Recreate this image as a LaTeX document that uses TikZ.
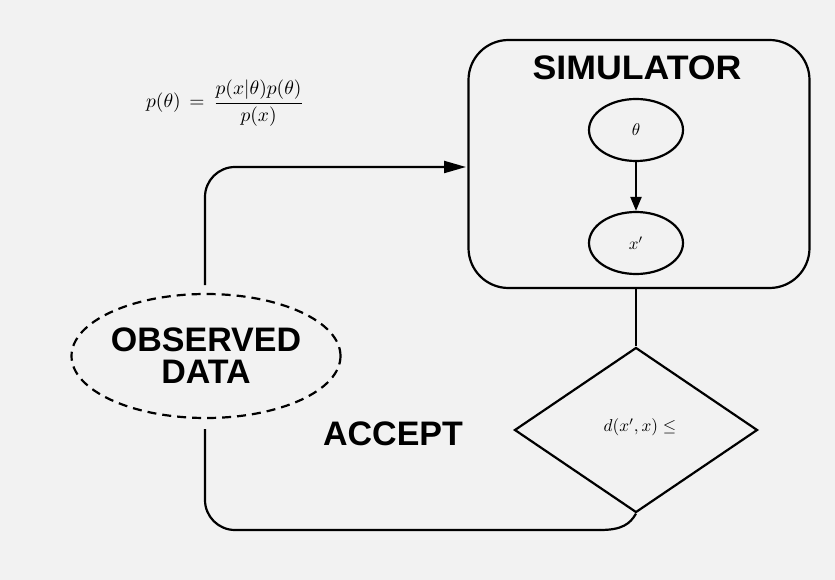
\documentclass[tikz,border=0pt]{standalone}
\usepackage{fontspec}
\usepackage{amsmath}
\usepackage{graphicx}
\setmainfont{Liberation Sans}
\usetikzlibrary{shapes.geometric,arrows.meta}
\begin{document}
\begin{tikzpicture}[x=1pt,y=-1pt,
  line/.style={line width=2.2pt},
  lab/.style={font=\fontsize{34}{36}\selectfont\bfseries, align=center},
  var/.style={ellipse, draw, line width=2.2pt, minimum width=94pt, minimum height=62pt, inner sep=0pt}]
\fill[gray!10] (0,0) rectangle (835,580);
\useasboundingbox (0,0) rectangle (835,580);
\node[draw, line width=2.2pt, rounded corners=40pt, minimum width=341pt, minimum height=248pt] (sim) at (639,164) {};
\node[lab] (simt) at (637,68) {\scalebox{1.05}[1]{SIMULATOR}};
\node[var] (th) at (636,130) {\scalebox{1.7}{$\theta$}};
\node[var] (xp) at (636,243) {\scalebox{1.7}{$x'$}};
\node[diamond, draw, line width=2.2pt, minimum width=243pt, minimum height=165pt, inner sep=0pt, aspect=1.47] (dia) at (636,430) {};
\node (diat) at (640,427) {\scalebox{1.72}{$d(x',x)\leq$}};
\node[ellipse, draw, dashed, dash pattern=on 9pt off 6pt, line width=2.2pt, minimum width=266pt, minimum height=124pt, inner sep=0pt, lab] (obs) at (206,356) {OBSERVED\\[-4pt]DATA};
\node[lab] (acc) at (393,434) {ACCEPT};
\node (bayes) at (225,103) {\scalebox{1.95}{$p(\theta)\,=\,\dfrac{p(x|\theta)p(\theta)}{p(x)}$}};
\coordinate (obsT) at (205,285);
\coordinate (obsB) at (205,429);
\coordinate (simIn) at (466,167);
\draw[line, -{Triangle[length=14pt,width=11pt]}] (th) -- (xp);
\draw[line] (sim.south -| dia.north) -- (dia.north);
\draw[line, -{Triangle[length=22pt,width=12pt]}, rounded corners=30pt] (obsT) -- (205,167) -- (simIn);
\draw[line] (dia.south) .. controls (630,524) and (622,530) .. (600,530);
\draw[line, rounded corners=30pt] (600,530) -- (205,530) -- (obsB);
\end{tikzpicture}
\end{document}
